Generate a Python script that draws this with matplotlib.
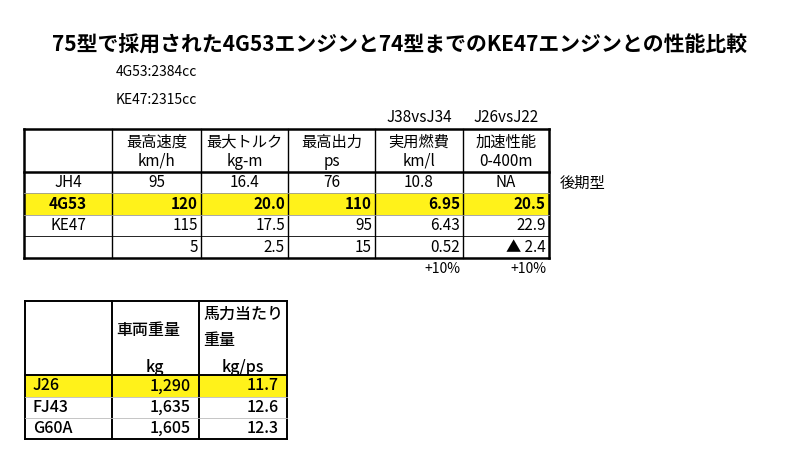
import matplotlib
matplotlib.use('Agg')
import matplotlib.pyplot as plt

plt.rcParams['font.family'] = ['Noto Sans CJK JP', 'DejaVu Sans']

# ---- data ----
title = '75型で採用された4G53エンジンと74型までのKE47エンジンとの性能比較'
notes = ['4G53:2384cc', 'KE47:2315cc']
top_heads = ['最高速度', '最大トルク', '最高出力', '実用燃費', '加速性能']
top_units = ['km/h', 'kg-m', 'ps', 'km/l', '0-400m']
top_over = ['', '', '', 'J38vsJ34', 'J26vsJ22']
top_under = ['', '', '', '+10%', '+10%']
top_rows = ['JH4', '4G53', 'KE47', '']
top_vals = [['95', '16.4', '76', '10.8', 'NA'],
            ['120', '20.0', '110', '6.95', '20.5'],
            ['115', '17.5', '95', '6.43', '22.9'],
            ['5', '2.5', '15', '0.52', '▲ 2.4']]
side_note = '後期型'

bot_rows = ['J26', 'FJ43', 'G60A']
bot_vals = [['1,290', '11.7'], ['1,635', '12.6'], ['1,605', '12.3']]

YEL = '#fff21a'

fig = plt.figure(figsize=(8, 4.67), dpi=100)
ax = fig.add_axes([0, 0, 1, 1])
ax.set_xlim(0, 800)
ax.set_ylim(467, 0)
ax.axis('off')

ax.text(400, 45, title, ha='center', va='center', fontsize=15, fontweight='bold')
ax.text(116, 72, notes[0], ha='left', va='center', fontsize=10)
ax.text(116, 100, notes[1], ha='left', va='center', fontsize=10)

#### top table ####
xs = [24, 112, 201, 288, 375, 463, 549]
ys = [129, 172, 193, 215, 236, 258]
ax.fill_between([xs[0], xs[-1]], ys[2], ys[3], color=YEL, lw=0)
for x in xs:
    lw = 1.8 if x in (xs[0], xs[-1]) else 1.0
    ax.plot([x, x], [ys[0], ys[-1]], color='black', lw=lw)
for i, y in enumerate(ys):
    if i in (0, 1, len(ys) - 1):
        lw = 1.8
    else:
        lw = 0.6
    c = 'black' if i in (0, 1, 4, len(ys) - 1) else '#999999'
    ax.plot([xs[0], xs[-1]], [y, y], color=c, lw=lw)

fs = 11
for j in range(5):
    xc = (xs[j + 1] + xs[j + 2]) / 2
    ax.text(xc, 142, top_heads[j], ha='center', va='center', fontsize=fs)
    ax.text(xc, 161, top_units[j], ha='center', va='center', fontsize=fs)
    if top_over[j]:
        ax.text(xc, 117, top_over[j], ha='center', va='center', fontsize=fs)
    if top_under[j]:
        ax.text(xs[j + 2] - 3, 269, top_under[j], ha='right', va='center', fontsize=10)

for i, name in enumerate(top_rows):
    yc = (ys[i + 1] + ys[i + 2]) / 2
    fw = 'bold' if i == 1 else 'normal'
    ax.text((xs[0] + xs[1]) / 2, yc, name, ha='center', va='center', fontsize=fs, fontweight=fw)
    for j, v in enumerate(top_vals[i]):
        if i == 0:
            ax.text((xs[j + 1] + xs[j + 2]) / 2, yc, v, ha='center', va='center', fontsize=fs)
        else:
            ax.text(xs[j + 2] - 3, yc, v, ha='right', va='center', fontsize=fs, fontweight=fw)
ax.text(583, 183, side_note, ha='center', va='center', fontsize=fs)

#### bottom table ####
bx = [25, 112, 199, 287]
by = [301, 375, 397, 418, 439]
ax.fill_between([bx[0], bx[-1]], by[1], by[2], color=YEL, lw=0)
for x in bx:
    ax.plot([x, x], [by[0], by[-1]], color='black', lw=1.4)
for i, y in enumerate(by):
    c = 'black' if i in (0, 1, 4) else '#bbbbbb'
    ax.plot([bx[0], bx[-1]], [y, y], color=c, lw=1.4 if c == 'black' else 0.6)

bf = dict(fontsize=11.5, fontweight='medium')
ax.text(116, 330, '車両重量', ha='left', va='center', **bf)
ax.text(155, 367, 'kg', ha='center', va='center', **bf)
ax.text(203, 314, '馬力当たり', ha='left', va='center', **bf)
ax.text(203, 340, '重量', ha='left', va='center', **bf)
ax.text(243, 367, 'kg/ps', ha='center', va='center', **bf)
for i, name in enumerate(bot_rows):
    yc = (by[i + 1] + by[i + 2]) / 2
    ax.text(bx[0] + 8, yc, name, ha='left', va='center', **bf)
    for j, v in enumerate(bot_vals[i]):
        ax.text(bx[j + 2] - 8, yc, v, ha='right', va='center', **bf)

plt.savefig('out.png', dpi=100)
